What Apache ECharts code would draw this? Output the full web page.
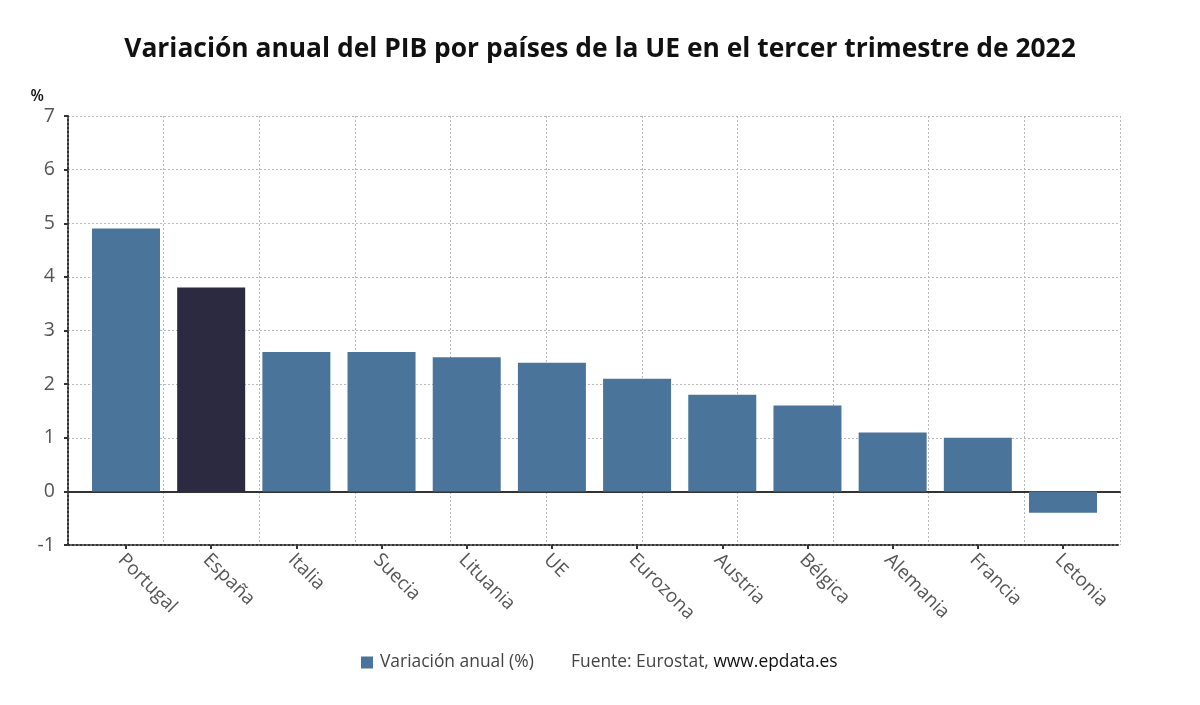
<!DOCTYPE html>
<html style="height: 100%">
<head>
    <meta charset="utf-8">
</head>
<body style="height: 100%; margin: 0; background: #fff">
<div id="container" style="height: 100%"></div>
<script type="text/javascript" src="https://cdn.jsdelivr.net/npm/echarts@6/dist/echarts.min.js"></script>
<script type="text/javascript">
var categories = ['Portugal', 'España', 'Italia', 'Suecia', 'Lituania', 'UE', 'Eurozona', 'Austria', 'Bélgica', 'Alemania', 'Francia', 'Letonia'];
var values = [4.9, 3.8, 2.6, 2.6, 2.5, 2.4, 2.1, 1.8, 1.6, 1.1, 1.0, -0.4];
var highlighted = 'España';
var seriesName = 'Variación anual (%)';

var myChart = echarts.init(document.getElementById('container'));
var font = '"Open Sans"';
var gridLine = { color: '#b8b8b8', width: 1, type: [2, 2] };
var axisDots = { color: '#333', width: 2, type: [2, 2] };

var option = {
    animation: false,
    textStyle: { fontFamily: font },
    title: [
        {
            text: 'Variación anual del PIB por países de la UE en el tercer trimestre de 2022',
            left: 'center',
            top: 31,
            textStyle: { fontFamily: font, fontSize: 26.4, fontWeight: 'bold', color: '#111' }
        },
        {
            text: 'Fuente: Eurostat, {b|www.epdata.es}',
            left: 566,
            top: 649,
            textStyle: {
                fontFamily: font, fontSize: 17.4, fontWeight: 'normal', color: '#444',
                rich: { b: { fontFamily: font, fontSize: 17.4, color: '#111' } }
            }
        }
    ],
    legend: {
        data: [seriesName],
        icon: 'rect',
        left: 356,
        top: 649,
        itemWidth: 12,
        itemHeight: 12,
        itemGap: 6,
        textStyle: { fontFamily: font, fontSize: 17.4, color: '#444', padding: [0, 0, 0, 2] }
    },
    // the vertical grid lines do not follow the categories, so they get their own grid.
    // third grid only carries the rotated labels, nudged left of the ticks
    grid: [
        { left: 68, right: 80, top: 116, bottom: 160 },
        { left: 83.4, right: 94.4, top: 116, bottom: 160 },
        { left: 78.4, right: 99.4, top: 116, bottom: 160 }
    ],
    xAxis: [
        {
            type: 'value', gridIndex: 0, min: 0, max: 11, interval: 1,
            axisLine: { show: true, onZero: false, lineStyle: axisDots },
            axisTick: { show: false },
            axisLabel: { show: false },
            splitLine: { show: true, lineStyle: gridLine }
        },
        {
            // zero line
            type: 'value', gridIndex: 0, min: 0, max: 11, position: 'bottom',
            axisLine: { show: true, onZero: true, lineStyle: { color: '#333', width: 2 } },
            axisTick: { show: false },
            axisLabel: { show: false },
            splitLine: { show: false }
        },
        {
            type: 'category', gridIndex: 1, data: categories,
            axisLine: { show: false, onZero: false },
            axisTick: { show: true, length: 4, alignWithLabel: true, lineStyle: { color: '#333', width: 2 } },
            axisLabel: { show: false },
            splitLine: { show: false }
        },
        {
            type: 'category', gridIndex: 2, data: categories,
            axisLine: { show: false, onZero: false },
            axisTick: { show: false },
            axisLabel: { interval: 0, rotate: -45, margin: 12, fontFamily: font, fontSize: 19, color: '#555' },
            splitLine: { show: false }
        }
    ],
    yAxis: [
        {
            type: 'value', gridIndex: 0, min: -1, max: 7, interval: 1,
            name: '%',
            nameLocation: 'end',
            nameGap: 11,
            nameTextStyle: { fontFamily: font, fontSize: 15.5, fontWeight: 600, color: '#111', align: 'right', padding: [0, 24, 0, 0] },
            axisLine: { show: true, onZero: false, lineStyle: axisDots },
            axisTick: { show: true, length: 4, lineStyle: { color: '#333', width: 2 } },
            axisLabel: { margin: 13, fontFamily: font, fontSize: 19.5, color: '#555' },
            splitLine: { show: true, lineStyle: gridLine }
        },
        { type: 'value', gridIndex: 1, min: -1, max: 7, interval: 1, show: false },
        { type: 'value', gridIndex: 2, min: -1, max: 7, interval: 1, show: false }
    ],
    series: [
        {
            name: seriesName,
            type: 'bar',
            xAxisIndex: 2,
            yAxisIndex: 1,
            barWidth: 68,
            color: '#4a7499',
            data: values.map(function (v, i) {
                return categories[i] === highlighted
                    ? { value: v, itemStyle: { color: '#2b2a40' } }
                    : v;
            })
        }
    ]
};

myChart.setOption(option);
</script>
</body>
</html>
